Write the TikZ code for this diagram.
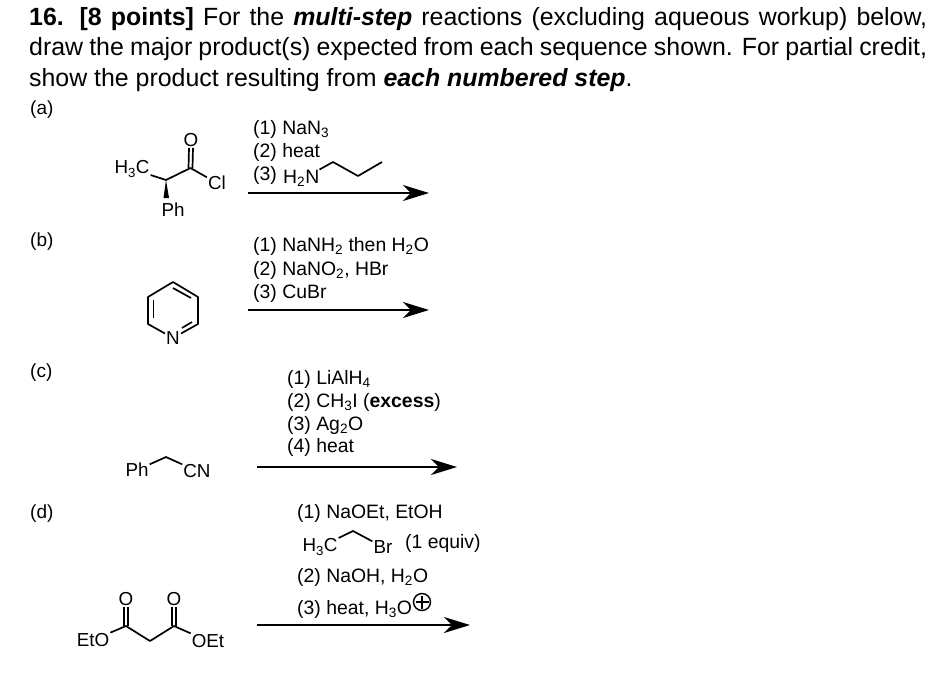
\documentclass[tikz,border=0pt]{standalone}
\usepackage{fontspec}
\setmainfont{Liberation Sans}
\usetikzlibrary{arrows.meta}
\tikzset{%
 >={Stealth[length=26pt,width=16pt,inset=8pt]},
 atom/.style={inner sep=1pt, font=\fontsize{18.8}{20}\selectfont},
 reagent/.style={anchor=west, inner sep=0pt, font=\fontsize{19.4}{21}\selectfont},
 partlabel/.style={anchor=west, inner sep=0pt, font=\fontsize{19}{21}\selectfont},
 bond/.style={line width=1.7pt, line join=round},
 rxnarrow/.style={->, line width=1.8pt}
}
\newcommand{\sbs}[1]{\textsubscript{#1}}

\begin{document}
\begin{tikzpicture}[x=1pt, y=-1pt]
 \useasboundingbox (0,0) rectangle (937,672);
 \node (head) at (29,7) [anchor=north west, inner sep=0pt, text width=898pt, align=justify,
   font=\fontsize{24.9}{30.6}\selectfont] {\hyphenpenalty=10000 \textbf{16. [8 points]} For the \textbf{\textit{multi-step}} reactions (excluding aqueous workup) below,\linebreak
   draw the major product(s) expected from each sequence shown. For partial credit,\linebreak
   show the product resulting from \textbf{\textit{each numbered step}}.\hfill\null};

 \foreach \i/\y in {a/110, b/242, c/373, d/514}
  \node (part\i) at (30,\y) [partlabel] {(\i)};

 % (a)
 \foreach \n/\y/\t in {1/129/{(1) NaN\sbs{3}}, 2/152/{(2) heat}, 3/175/{(3)}}
  \node (rgta\n) at (253,\y) [reagent] {\t};
 \node (hnp) at (283,178) [reagent] {H\sbs{2}N};
 \coordinate (pra) at (333,162);
 \coordinate (prb) at (358,176);
 \coordinate (prc) at (382,162);
 \draw [bond] (hnp.north east) -- (pra) -- (prb) -- (prc);
 \coordinate (aS) at (248,193);
 \coordinate (aE) at (429,193);
 \draw [rxnarrow] (aS) -- (aE);

 \node (hca) at (132,169) [atom] {H\sbs{3}C};
 \node (cla) at (217,183) [atom] {Cl};
 \node (oa) at (191,140) [atom] {O};
 \node (pha) at (173,210) [atom] {Ph};
 \coordinate (ca) at (166,180);
 \coordinate (cb) at (190.5,168);
 \coordinate (wl) at (163.5,198);
 \coordinate (wr) at (169,198);
 \draw [bond] (hca) -- (ca) -- (cb) -- (cla);
 \draw [bond] ([xshift=-2pt]cb) -- ([xshift=-2pt]oa.south);
 \draw [bond] ([xshift=2pt]cb) -- ([xshift=2pt]oa.south);
 \fill (ca) -- (wl) -- (wr) -- cycle;

 % (b)
 \foreach \n/\y/\t in {1/246/{(1) NaNH\sbs{2} then H\sbs{2}O}, 2/270/{(2) NaNO\sbs{2}, HBr}, 3/293/{(3) CuBr}}
  \node (rgtb\n) at (253,\y) [reagent] {\t};
 \coordinate (bS) at (248,310);
 \coordinate (bE) at (429,310);
 \draw [rxnarrow] (bS) -- (bE);

 \node (npy) at (173,338) [atom] {N};
 \coordinate (pyt) at (173,282);
 \coordinate (pyl) at (148,297);
 \coordinate (pyk) at (148,324);
 \coordinate (pyr) at (198,297);
 \coordinate (pys) at (198,324);
 \draw [bond] (npy) -- (pyk) -- (pyl) -- (pyt) -- (pyr) -- (pys) -- (npy);
 \coordinate (ina) at (173,288);
 \coordinate (inb) at (191,298);
 \coordinate (inc) at (153.5,300);
 \coordinate (ind) at (153.5,318);
 \coordinate (ine) at (192,322);
 \coordinate (inf) at (182,328);
 \draw [bond] (ina) -- (inb);
 \draw [bond] (inc) -- (ind);
 \draw [bond] (ine) -- (inf);

 % (c)
 \foreach \n/\y/\t in {1/379/{(1) LiAlH\sbs{4}}, 2/402/{(2) CH\sbs{3}I (\textbf{excess})}, 3/425/{(3) Ag\sbs{2}O}, 4/447/{(4) heat}}
  \node (rgtc\n) at (287,\y) [reagent] {\t};
 \coordinate (cS) at (257,467);
 \coordinate (cE) at (457,467);
 \draw [rxnarrow] (cS) -- (cE);

 \node (phc) at (137,470) [atom] {Ph};
 \node (cnc) at (197,471) [atom] {CN};
 \coordinate (chc) at (166,457);
 \draw [bond] (phc) -- (chc) -- (cnc);

 % (d)
 \foreach \n/\y/\t in {1/513/{(1) NaOEt, EtOH}, 2/577/{(2) NaOH, H\sbs{2}O}, 3/609/{(3) heat, H\sbs{3}O}}
  \node (rgtd\n) at (297,\y) [reagent] {\t};
 \node (hcd) at (320,547) [atom] {H\sbs{3}C};
 \node (brd) at (383,547) [atom] {Br};
 \node (eqv) at (405,543) [reagent] {(1 equiv)};
 \coordinate (chd) at (353,531);
 \draw [bond] (hcd) -- (chd) -- (brd);
 \node (plus) at (422,602) [circle, draw, line width=1.4pt, minimum size=17pt, inner sep=0pt] {};
 \coordinate (pla) at (415.5,602);
 \coordinate (plb) at (428.5,602);
 \coordinate (plc) at (422,595.5);
 \coordinate (pld) at (422,608.5);
 \draw [line width=1.4pt] (pla) -- (plb);
 \draw [line width=1.4pt] (plc) -- (pld);
 \coordinate (dS) at (257,625);
 \coordinate (dE) at (470,625);
 \draw [rxnarrow] (dS) -- (dE);

 \node (etl) at (93,640) [atom] {EtO};
 \node (etr) at (208,641) [atom] {OEt};
 \node (ol) at (126,599) [atom] {O};
 \node (or) at (174,599) [atom] {O};
 \coordinate (cl) at (126,626);
 \coordinate (cm) at (150,641);
 \coordinate (cr) at (174,626);
 \draw [bond] (etl) -- (cl) -- (cm) -- (cr) -- (etr);
 \foreach \c/\o in {cl/ol, cr/or} {
  \draw [bond] ([xshift=-2pt]\c) -- ([xshift=-2pt]\o.south);
  \draw [bond] ([xshift=2pt]\c) -- ([xshift=2pt]\o.south);
 }
\end{tikzpicture}
\end{document}
